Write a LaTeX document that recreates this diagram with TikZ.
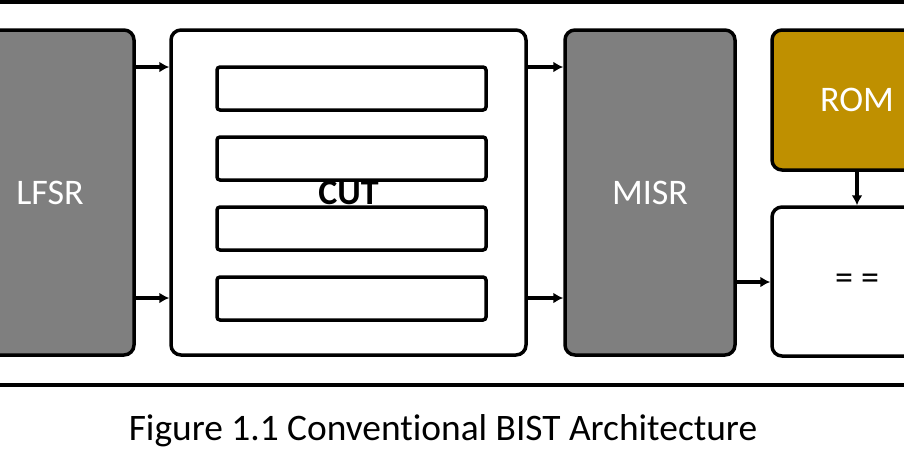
\documentclass[tikz,border=0pt]{standalone}
\usepackage{fontspec}
\setmainfont{Carlito}[Ligatures=NoCommon]
\usetikzlibrary{arrows.meta}
\definecolor{blkgray}{HTML}{7F7F7F}
\definecolor{romgold}{HTML}{BF9000}
\tikzset{
    blk/.style={draw, line width=3.5pt, rounded corners=10pt, inner sep=0pt,
        font=\fontsize{36}{43}\selectfont},
    reg/.style={draw, fill=white, line width=3.5pt, rounded corners=3pt,
        minimum width=269pt, minimum height=43pt, inner sep=0pt},
    arr/.style={line width=3.5pt, -{Latex[length=10pt,width=11pt]}}
}
\begin{document}
\begin{tikzpicture}[x=1pt,y=-1pt]
            \useasboundingbox (0,0) rectangle (904,475);
            \clip (0,0) rectangle (904,475);
            \draw[line width=4pt] (0,1.5) -- (904,1.5);
            \draw[line width=4pt] (0,385) -- (904,385);

            \node[blk, fill=blkgray, text=white, minimum width=168pt, minimum height=325pt] (lfsr) at (50,192.5) {LFSR};
            \node[blk, fill=white, minimum width=355pt, minimum height=325pt] (cut) at (348.5,192.5) {\bfseries CUT};
            \node[blk, fill=blkgray, text=white, minimum width=170pt, minimum height=325pt] (misr) at (650,192.5) {MISR};
            \node[blk, fill=romgold, text=white, minimum width=170pt, minimum height=140pt] (rom) at (857,100) {ROM};
            \node[blk, fill=white, minimum width=170pt, minimum height=149pt] (cmp) at (857,281.5) {= =};

            \foreach \i in {0,...,3}
            {
                \node[reg] (r\i) at (351.5, 88.5+\i*70) {};
            }

            \draw[arr] (lfsr.east |- 0,67) -- (cut.west |- 0,67);
            \draw[arr] (lfsr.east |- 0,298) -- (cut.west |- 0,298);
            \draw[arr] (cut.east |- 0,67) -- (misr.west |- 0,67);
            \draw[arr] (cut.east |- 0,298) -- (misr.west |- 0,298);
            \draw[arr] (misr.east |- 0,282) -- (cmp.west |- 0,282);
            \draw[arr] (rom.south) -- (cmp.north);

            \node[font=\fontsize{37.4}{45}\selectfont] (caption) at (443,431) {Figure 1.1 Convent\kern0pt ional BIST Architecture};
        \end{tikzpicture}
\end{document}
